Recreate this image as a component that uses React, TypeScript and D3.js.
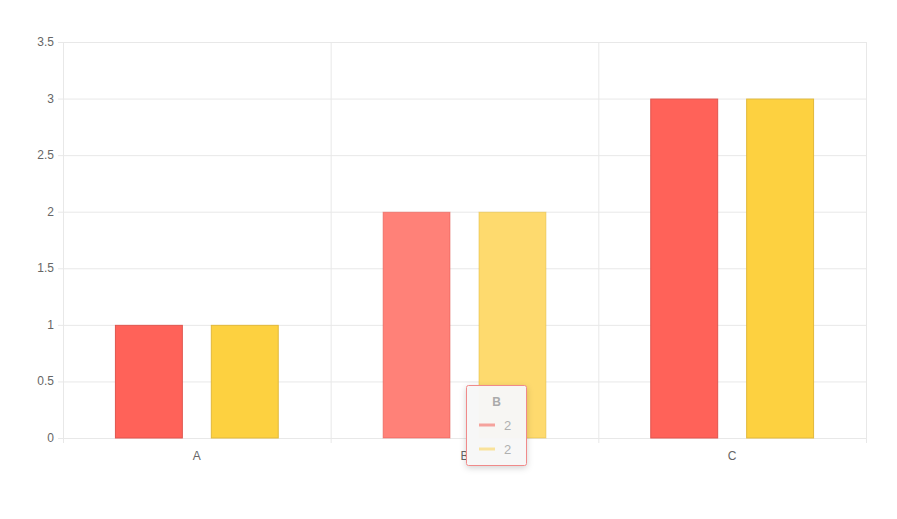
import { useEffect, useRef } from 'react';
import * as d3 from 'd3';

const categories = ['A', 'B', 'C'];
const seriesNames = ['1', '2'];
const seriesValues = [
  [1, 2, 3],
  [1, 2, 3],
];
const yTicks = [0, 0.5, 1, 1.5, 2, 2.5, 3, 3.5];
const hovered = 'B';

const fills = ['#ff6259', '#fdd140'];
const hoverFills = ['#ff8178', '#feda6e'];
const borders = ['#e0554e', '#e2b93a'];
const swatches = ['#f5a29c', '#f9e29b'];

export default function App() {
  const svgRef = useRef<SVGSVGElement>(null);
  const width = 897;
  const height = 519;

  useEffect(() => {
    if (!svgRef.current) return;
    const svg = d3.select(svgRef.current);
    svg.selectAll('*').remove();

    const left = 63, right = 866, top = 42, bottom = 438;
    const font = '"Liberation Sans", Arial, sans-serif';

    const x = d3.scaleBand<string>().domain(categories).range([left, right]).padding(0);
    const bw = x.bandwidth();
    // two bars centred in each category, 68px wide with a 28px gap
    const xi = d3.scaleBand<string>()
      .domain(seriesNames)
      .range([bw * 0.194, bw * 0.806])
      .paddingInner(0.2917)
      .paddingOuter(0);
    const y = d3.scaleLinear().domain([0, 3.5]).range([bottom, top]);

    svg.append('rect').attr('width', width).attr('height', height).attr('fill', '#fff');

    // horizontal grid + left ticks
    yTicks.forEach(t => {
      svg.append('line')
        .attr('x1', left - 5).attr('x2', right)
        .attr('y1', y(t) + 0.5).attr('y2', y(t) + 0.5)
        .attr('stroke', '#e8e8e8').attr('stroke-width', 1);
      svg.append('text')
        .attr('x', left - 9).attr('y', y(t) + 4)
        .attr('text-anchor', 'end')
        .attr('fill', '#666').attr('font-family', font).attr('font-size', '12px')
        .text(String(t));
    });

    // vertical grid lines at category boundaries
    const bounds = categories.map(c => x(c)!).concat([right]);
    bounds.forEach(b => {
      svg.append('line')
        .attr('x1', b + 0.5).attr('x2', b + 0.5)
        .attr('y1', top).attr('y2', bottom + 5)
        .attr('stroke', '#e8e8e8').attr('stroke-width', 1);
    });

    // category labels
    categories.forEach(c => {
      svg.append('text')
        .attr('x', x(c)! + bw / 2).attr('y', bottom + 22)
        .attr('text-anchor', 'middle')
        .attr('fill', '#666').attr('font-family', font).attr('font-size', '12px')
        .text(c);
    });

    // bars
    seriesNames.forEach((s, si) => {
      categories.forEach((c, ci) => {
        const v = seriesValues[si][ci];
        const bx = x(c)! + xi(s)!;
        svg.append('rect')
          .attr('x', bx + 0.5).attr('y', y(v) + 0.5)
          .attr('width', xi.bandwidth() - 1)
          .attr('height', y(0) - y(v) - 0.5)
          .attr('fill', c === hovered ? hoverFills[si] : fills[si])
          .attr('stroke', borders[si]).attr('stroke-width', 1)
          .attr('stroke-opacity', c === hovered ? 0.5 : 1);
      });
    });

    // tooltip for the hovered category
    const hi = categories.indexOf(hovered);
    const tx = 466, ty = 385, tw = 60, th = 80;
    const defs = svg.append('defs');
    const f = defs.append('filter').attr('id', 'shadow').attr('x', '-30%').attr('y', '-30%')
      .attr('width', '160%').attr('height', '160%');
    f.append('feDropShadow').attr('dx', 0).attr('dy', 2).attr('stdDeviation', 3)
      .attr('flood-color', '#000').attr('flood-opacity', 0.18);

    const tip = svg.append('g');
    tip.append('rect')
      .attr('x', tx + 0.5).attr('y', ty + 0.5).attr('width', tw).attr('height', th)
      .attr('rx', 2).attr('fill', '#f8f8f8').attr('fill-opacity', 0.97)
      .attr('stroke', '#f08a8a').attr('stroke-width', 1)
      .attr('filter', 'url(#shadow)');
    tip.append('text')
      .attr('x', tx + tw / 2 + 0.5).attr('y', ty + 21)
      .attr('text-anchor', 'middle')
      .attr('fill', '#aaa').attr('font-family', font).attr('font-size', '12px')
      .attr('font-weight', 'bold')
      .text(hovered);
    seriesNames.forEach((s, si) => {
      const ry = ty + 40 + si * 24;
      tip.append('line')
        .attr('x1', tx + 13).attr('x2', tx + 29)
        .attr('y1', ry).attr('y2', ry)
        .attr('stroke', swatches[si]).attr('stroke-width', 3);
      tip.append('text')
        .attr('x', tx + 38).attr('y', ry + 4.5)
        .attr('fill', '#b0b0b0').attr('font-family', font).attr('font-size', '13px')
        .text(String(seriesValues[si][hi]));
    });
  }, []);

  return (
    <div style={{ position: 'absolute', left: 0, top: 0 }}>
      <svg ref={svgRef} width={width} height={height} style={{ display: 'block' }} />
    </div>
  );
}
